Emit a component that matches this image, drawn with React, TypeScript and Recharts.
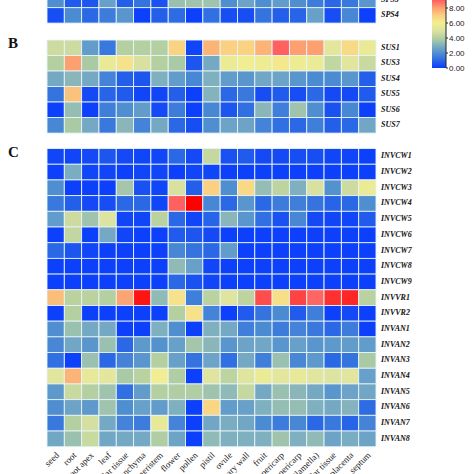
import React from 'react';
import { ScatterChart, Scatter, XAxis, YAxis, BarChart, Bar } from 'recharts';

const tissues = [
  'seed', 'root', 'root apex', 'leaf', 'vascular tissue', 'collenchyma', 'meristem', 'flower', 'pollen',
  'pistil', 'ovule', 'ovary wall', 'fruit', 'exopericarp', 'mesopericarp', 'endopericarp (lamella)',
  'vascular tissue', 'placenta', 'septum',
];

const genesA = ['SPS3', 'SPS4'];
const valuesA = [
  [2, 0.7, 0.6, 2.5, 0.8, 1.3, 0.5, 3.5, 3.6, 3.6, 2, 2.6, 2, 2.4, 2, 1.5, 1, 1.4, 2.2],
  [0.4, 1.9, 1, 1.5, 2.2, 0.1, 0.8, 1.1, 0.1, 1.2, 0.4, 0.4, 1.3, 0.8, 0.9, 2.5, 0.4, 1.8, 0.1],
];

const genesB = ['SUS1', 'SUS3', 'SUS4', 'SUS5', 'SUS6', 'SUS7'];
const valuesB = [
  [4.6, 4.6, 2.4, 1.4, 4, 4, 4, 6.9, 0.2, 7.6, 7, 6.9, 7.6, 9, 8, 8, 5.3, 6.7, 5.6],
  [4, 8, 3.8, 5.6, 6.4, 4.9, 4, 3.8, 0.6, 2.8, 5.7, 5.9, 5.8, 6.2, 5.8, 5.7, 4.3, 5.2, 4.5],
  [2.8, 3.2, 2.8, 1.7, 0.8, 0.6, 3, 2.4, 1.8, 3, 2.4, 2.2, 2.7, 2.6, 2.2, 1.9, 1.9, 2.2, 0.8],
  [1.3, 7.3, 0.3, 0.9, 0.7, 0.2, 0.2, 0.8, 0.1, 3.1, 1, 1.4, 0.4, 0.7, 0.4, 1, 0.3, 0.3, 0.7],
  [0.1, 3.4, 0.1, 1.6, 2, 2.4, 0.3, 1.5, 0.1, 1.8, 0.6, 1.2, 3.2, 1.6, 3.6, 2, 0.5, 1.8, 0.1],
  [1.8, 3.8, 2.8, 1.4, 3.2, 1.7, 2.8, 1, 0.4, 2, 2.6, 2.6, 1.7, 1.2, 1, 1.6, 0.8, 1, 2.7],
];

const genesC = [
  'INVCW1', 'INVCW2', 'INVCW3', 'INVCW4', 'INVCW5', 'INVCW6', 'INVCW7', 'INVCW8', 'INVCW9', 'INVVR1',
  'INVVR2', 'INVAN1', 'INVAN2', 'INVAN3', 'INVAN4', 'INVAN5', 'INVAN6', 'INVAN7', 'INVAN8',
];
const valuesC = [
  [0.2, 0.2, 0.3, 0.6, 0.3, 0.2, 0.2, 1, 0.3, 4.4, 0.5, 0.7, 0.3, 0.3, 0.4, 0.4, 0.2, 0.2, 0.1],
  [0.1, 2.9, 0.2, 0.2, 0.1, 0.2, 0.2, 0.1, 0.2, 0.2, 0.1, 0.1, 0.1, 0.1, 0.1, 0.1, 0.1, 0.1, 0.1],
  [2, 0.1, 0.1, 0.1, 3.7, 0.5, 0.2, 4.9, 0.8, 7, 2, 6.7, 3.4, 4.2, 3, 4.9, 2.1, 4.6, 5.7],
  [1.4, 0.8, 0.3, 0.4, 1, 1, 0.2, 9, 10, 1.8, 1, 2.2, 1, 1.5, 1.6, 1.3, 0.9, 1, 2],
  [2.4, 4.6, 3.6, 5, 0.2, 0.2, 4.1, 1, 0.2, 0.9, 3.2, 2.2, 1.2, 0.5, 1.8, 0.3, 0.2, 0.2, 0.7],
  [0.1, 4.3, 0.1, 2.8, 0.2, 0.1, 0.1, 0.7, 0.6, 0.3, 0.1, 0.1, 0.1, 0.1, 0.1, 0.1, 0.1, 0.1, 0.1],
  [1, 0.6, 0.2, 0.1, 0.1, 0.1, 0.1, 1.8, 1.3, 1, 2.4, 0.1, 0.1, 0.1, 0.1, 0.1, 0.1, 0.1, 0.1],
  [0.1, 0.1, 0.1, 0.1, 0.1, 0.1, 0.1, 3.3, 2.5, 0.2, 0.1, 0.1, 0.1, 0.1, 0.1, 0.1, 0.1, 0.1, 0.1],
  [0.1, 0.1, 0.1, 0.1, 0.1, 0.1, 0.1, 1, 0.5, 0.2, 0.1, 0.1, 0.1, 0.1, 0.1, 0.1, 0.1, 0.1, 0.1],
  [7.4, 4.1, 4.1, 4, 7.9, 9.8, 3.3, 6.4, 1.6, 4.1, 5.1, 4.2, 9.2, 6.5, 9.3, 8.9, 9.5, 9.6, 4.1],
  [0.1, 4, 0.1, 0.1, 0.1, 0.1, 0.1, 4, 6.4, 1.7, 0.1, 0.7, 1.3, 1.9, 0.7, 1.6, 0.1, 0.3, 0.1],
  [2, 3.5, 2.8, 2.8, 0.1, 0.1, 3, 2, 0.1, 3, 2.8, 1.6, 1.9, 1.5, 1.7, 1.4, 1, 1.5, 0.1],
  [1.8, 2.7, 2.2, 3.5, 1, 2.3, 2.1, 2.5, 3.7, 3.2, 2.2, 2.6, 2.7, 2.2, 2.5, 2.2, 2.3, 2.4, 2.4],
  [1.2, 0.1, 3.5, 1, 1.7, 2.2, 4, 2.5, 1.3, 2.6, 1.2, 2.8, 1.6, 3.5, 1.8, 2.3, 1, 1.3, 3.8],
  [5.2, 7.6, 5.5, 5.3, 3.8, 4.1, 5.9, 3.9, 0.1, 5.1, 4.2, 5.1, 5.7, 5.3, 5.5, 5.2, 5, 5.2, 2.5],
  [2.3, 4.5, 4, 3.6, 1.2, 2.4, 4, 3.9, 3.9, 3.6, 3.3, 4.4, 2.8, 3.5, 3.2, 2.8, 2.2, 2.6, 2.7],
  [2, 2.6, 2.3, 3.6, 2, 2.5, 2.4, 3, 0.1, 6.8, 2.4, 2.5, 3, 3.4, 3.4, 3, 2.8, 3.1, 1.1],
  [1.4, 4, 4.8, 2.8, 1.7, 1.5, 5.5, 1.7, 0.1, 2.7, 2.9, 2.7, 1.9, 1.5, 1.8, 1, 1.4, 0.9, 1.7],
  [2.7, 3.5, 4.5, 2.7, 2.8, 2.8, 3.9, 2.6, 0.1, 3.3, 3, 3, 3, 3.6, 3, 3.3, 2.6, 2.9, 2.6],
];

const scaleTicks = [0, 2, 4, 6, 8];
const scaleStops = ['#0a3cfc', '#2a68e6', '#4f8fd0', '#7fb0c0', '#b5d0a0', '#dde3a0', '#f2ee90', '#fbd080', '#fca070', '#ff6060', '#ff0000'];

// value -> colour, stops are one unit apart
const toRgb = (hex: string) => [1, 3, 5].map(i => parseInt(hex.slice(i, i + 2), 16));
const colorFor = (v: number) => {
  const i = Math.min(Math.floor(v), scaleStops.length - 2);
  const a = toRgb(scaleStops[i]);
  const b = toRgb(scaleStops[i + 1]);
  const t = v - i;
  return `rgb(${a.map((c, k) => Math.round(c + (b[k] - c) * t)).join(',')})`;
};

// chart rows are in units of one panel C row
const PX_PER_ROW = 15.76;
const PLOT_LEFT = 47;
const PLOT_RIGHT = 376;
const PLOT_BOTTOM = 446.7;
const CELL_W = (PLOT_RIGHT - PLOT_LEFT) / tissues.length;

const panel = (genes: string[], values: number[][], first: number, step: number) =>
  genes.flatMap((gene, r) =>
    values[r].map((value, c) => ({ col: c, row: first + r * step, value, gene, h: step * PX_PER_ROW })),
  );

const cells = [
  ...panel(genesA, valuesA, -0.12, 0.98),
  ...panel(genesB, valuesB, 2.925, 0.988),
  ...panel(genesC, valuesC, 9.846, 1),
];

const rowLabels = new Map<number, string>();
cells.forEach(d => rowLabels.set(d.row, d.gene));
const rowTicks = Array.from(rowLabels.keys());

const HeatCell = (props: any) => {
  const { cx, cy, payload } = props;
  return (
    <rect
      x={cx - CELL_W / 2}
      y={cy - payload.h / 2}
      width={CELL_W}
      height={payload.h}
      fill={colorFor(payload.value)}
      stroke="#e8f4f8"
      strokeWidth={0.9}
    />
  );
};

const TissueTick = (props: any) => {
  const { x, y, payload } = props;
  return (
    <text
      x={x + 4}
      y={y + 1}
      transform={`rotate(-45 ${x + 4} ${y + 1})`}
      textAnchor="end"
      fontFamily="'Liberation Serif', serif"
      fontSize={9}
      fill="#222"
    >
      {tissues[payload.value]}
    </text>
  );
};

const GeneTick = (props: any) => {
  const { x, y, payload } = props;
  return (
    <text
      x={x - 3}
      y={y + 2}
      fontFamily="'Liberation Serif', serif"
      fontStyle="italic"
      fontWeight="bold"
      fontSize={8}
      fill="#111"
    >
      {rowLabels.get(payload.value)}
    </text>
  );
};

const panelTag: React.CSSProperties = {
  position: 'absolute',
  fontFamily: "'Liberation Serif', serif",
  fontWeight: 'bold',
  fontSize: 15,
  color: '#111',
  lineHeight: '15px',
};

export default function App() {
  return (
    <div style={{ position: 'absolute', left: 0, top: 0, width: 474, height: 474, overflow: 'hidden', background: '#fff' }}>
      <ScatterChart
        width={474}
        height={474}
        margin={{ top: 0, right: 0, bottom: 0, left: PLOT_LEFT }}
      >
        <XAxis
          type="number"
          dataKey="col"
          domain={[-0.5, tissues.length - 0.5]}
          ticks={tissues.map((_, i) => i)}
          interval={0}
          height={474 - PLOT_BOTTOM}
          axisLine={false}
          tickLine={false}
          tick={<TissueTick />}
        />
        <YAxis
          type="number"
          dataKey="row"
          orientation="right"
          reversed
          domain={[0, PLOT_BOTTOM / PX_PER_ROW]}
          ticks={rowTicks}
          interval={0}
          width={474 - PLOT_RIGHT}
          axisLine={false}
          tickLine={false}
          tick={<GeneTick />}
        />
        <Scatter data={cells} shape={<HeatCell />} isAnimationActive={false} />
      </ScatterChart>

      <div style={{ ...panelTag, left: 8, top: 36 }}>B</div>
      <div style={{ ...panelTag, left: 8, top: 145 }}>C</div>

      <div style={{ position: 'absolute', left: 432, top: -7 }}>
        <BarChart
          width={42}
          height={81}
          data={[{ name: 'scale', value: 10 }]}
          margin={{ top: 0, right: 0, bottom: 6, left: 0 }}
          barCategoryGap={0}
        >
          <defs>
            <linearGradient id="heatScale" x1="0" y1="1" x2="0" y2="0">
              {scaleStops.map((c, i) => (
                <stop key={i} offset={i / (scaleStops.length - 1)} stopColor={c} />
              ))}
            </linearGradient>
          </defs>
          <XAxis dataKey="name" hide />
          <YAxis
            orientation="right"
            domain={[0, 10]}
            ticks={scaleTicks}
            interval={0}
            width={28}
            tickSize={2}
            tickMargin={1}
            stroke="#222"
            tickFormatter={(v: number) => v.toFixed(2)}
            tick={{ fontFamily: "'Liberation Sans', sans-serif", fontSize: 8, fill: '#222' }}
          />
          <Bar dataKey="value" fill="url(#heatScale)" isAnimationActive={false} />
        </BarChart>
      </div>
    </div>
  );
}
